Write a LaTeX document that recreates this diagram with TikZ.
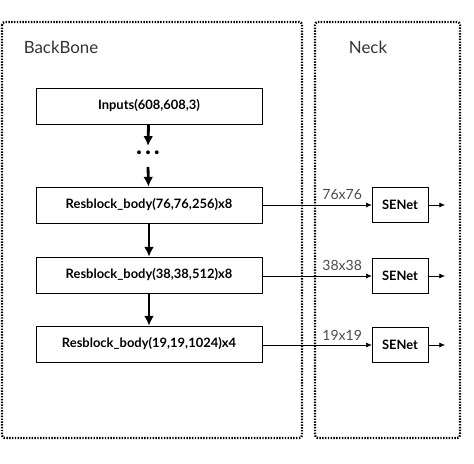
\documentclass[tikz,border=0pt]{standalone}
\usepackage{fontspec}
\setmainfont{Lato}
\usetikzlibrary{positioning,arrows.meta}
\begin{document}
\begin{tikzpicture}[x=0.025cm, y=-0.025cm, font=\fontsize{9}{11}\selectfont]
      \tikzset{
	  block/.style={draw=black, thin, minimum width=5.65cm, minimum height=0.9cm, font=\fontsize{9.2}{11}\selectfont\bfseries, text centered},
	  senet/.style={draw=black, thin, minimum width=1.4cm, minimum height=0.88cm, font=\fontsize{9.2}{11}\selectfont\bfseries},
	  frame/.style={draw=black, line width=1.6pt, dash pattern=on 1pt off 1pt, rounded corners=2pt},
	  bigarrow/.style={draw=black, line width=2pt, -{Latex[length=7pt, width=7pt]}},
	  thinarrow/.style={draw=black, thin, -{Latex[length=4pt, width=3.5pt]}},
	  size/.style={above, text=black!70, font=\fontsize{10}{12}\selectfont}
      }
      \useasboundingbox (0,0) rectangle (474,464);

      % the two dotted frames
      \draw[frame] (2,22) rectangle (302,438);
      \draw[frame] (315,22) rectangle (460,438);
      \node[text=black!80, font=\fontsize{12}{14}\selectfont] (backbone) at (61,47) {BackBone};
      \node[text=black!80, font=\fontsize{12}{14}\selectfont] (neck) at (368,47) {Neck};

      % backbone column
      \node[block] (inputs) at (149,106) {Inputs(608,608,3)};
      \node[font=\fontsize{18}{18}\selectfont\bfseries, inner sep=0pt] (dots) at (148,153) {.\hspace{2pt}.\hspace{2pt}.};
      \node[block] (res1) at (149,205) {Resblock\_body(76,76,256)x8};
      \node[block] (res2) at (149,275) {Resblock\_body(38,38,512)x8};
      \node[block] (res3) at (149,344) {Resblock\_body(19,19,1024)x4};

      \draw[bigarrow] (inputs) -- (148,146);
      \draw[bigarrow] (148,167) -- (res1);
      \draw[bigarrow] (res1) -- (res2);
      \draw[bigarrow] (res2) -- (res3);

      % neck column
      \node[senet] (se1) at (400,205) {SENet};
      \node[senet] (se2) at (400,276) {SENet};
      \node[senet] (se3) at (400,345) {SENet};
      \coordinate (out1) at (445,205);
      \coordinate (out2) at (445,276);
      \coordinate (out3) at (445,345);

      \draw[thinarrow] (res1.east) -- (se1.west) node[size, pos=0.73] {76x76};
      \draw[thinarrow] (res2.east |- se2.west) -- (se2.west) node[size, pos=0.73] {38x38};
      \draw[thinarrow] (res3.east |- se3.west) -- (se3.west) node[size, pos=0.73] {19x19};
      \foreach \i in {1,2,3}
        \draw[thinarrow] (se\i) -- (out\i);
    \end{tikzpicture}
\end{document}
